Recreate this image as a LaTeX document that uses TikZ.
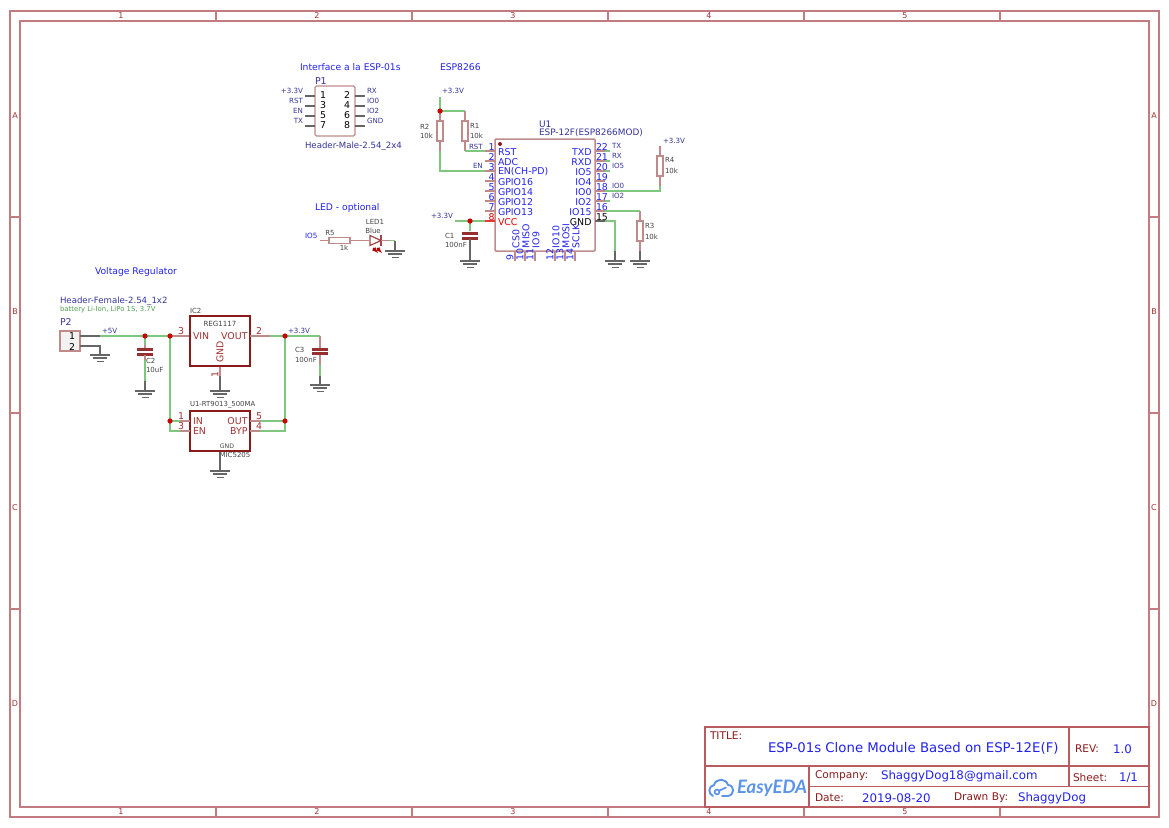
\documentclass[tikz,border=0pt]{standalone}
\usepackage{fontspec}
\setmainfont{DejaVu Sans}
\newfontfamily\logofont{Lato}
\definecolor{framec}{HTML}{C27C80}
\definecolor{tbc}{HTML}{B85C60}
\definecolor{rose}{HTML}{C08A8A}
\definecolor{wire}{HTML}{7FC77F}
\definecolor{gnd}{HTML}{666666}
\definecolor{junc}{HTML}{CC0000}
\definecolor{dred}{HTML}{8B1A1A}
\definecolor{pinred}{HTML}{A03030}
\definecolor{tblue}{HTML}{2222EE}
\definecolor{navy}{HTML}{33339A}
\definecolor{dtext}{HTML}{444444}
\definecolor{logoc}{HTML}{5B93E8}
\definecolor{battc}{HTML}{4FA04F}
\newcounter{tc}
\newcommand\Lbl[3][]{\stepcounter{tc}\node[lbl,#1] (t\arabic{tc}) at (#2) {#3};}
\newcommand\fs[1]{\fontsize{#1}{#1}\selectfont}
\newcommand\Gnd[3]{%
  \coordinate (#1) at (#2,#3);
  \draw[gnd,line width=1.3pt] ($(#1)+(-10,0)$) -- ($(#1)+(10,0)$);
  \draw[gnd,line width=1.1pt] ($(#1)+(-7,3)$) -- ($(#1)+(7,3)$);
  \draw[gnd,line width=1pt] ($(#1)+(-3.5,6)$) -- ($(#1)+(3.5,6)$);}
\newcommand\Jn[1]{\fill[junc] (#1) circle (2.6);}
\usetikzlibrary{calc}
\tikzset{
  lbl/.style={inner sep=0pt,outer sep=0pt,anchor=west},
  w/.style={wire,line width=1.5pt},
  pin/.style={rose,line width=1.5pt},
  gw/.style={gnd,line width=1.5pt},
  fr/.style={framec,line width=1.4pt},
  tb/.style={tbc,line width=1.3pt},
  sym/.style={draw=rose,line width=1.4pt,inner sep=0pt,minimum width=6pt,minimum height=20pt,rectangle},
  ic/.style={draw=dred,line width=2pt,inner sep=0pt,rectangle},
  bn/.style={tblue,font=\fs{9.4}},
  bs/.style={tblue,font=\fs{7}},
  ns/.style={navy,font=\fs{7.1}},
  nt/.style={navy,font=\fs{8.6}},
  ds/.style={dtext,font=\fs{7}},
  rn/.style={pinred,font=\fs{9.4}},
  tt/.style={dred,font=\fs{10.6}},
  tv/.style={tblue,font=\fs{11.8}},
  fl/.style={pinred,font=\fs{8}},
}
\begin{document}
\begin{tikzpicture}[x=1pt,y=-1pt]
\useasboundingbox (0,0) rectangle (1169,827);
% sheet frame
\draw[fr] (10,11) rectangle (1159,817);
\draw[fr] (20,21) rectangle (1149,807);
\foreach \x in {216,412,608,804,1000}{\draw[fr] (\x,11)--(\x,21); \draw[fr] (\x,807)--(\x,817);}
\foreach \y in {217,413,609}{\draw[fr] (10,\y)--(20,\y); \draw[fr] (1149,\y)--(1159,\y);}
\foreach \x/\t [count=\i] in {121/1,317/2,513/3,709/4,905/5}{
  \node[lbl,anchor=center,fl] (ft\i) at (\x,16) {\t};
  \node[lbl,anchor=center,fl] (fb\i) at (\x,812) {\t};}
\foreach \y/\t [count=\i] in {116/A,312/B,508/C,704/D}{
  \node[lbl,anchor=center,fl] (fl\i) at (15,\y) {\t};
  \node[lbl,anchor=center,fl] (fr\i) at (1154,\y) {\t};}
% title block
\draw[tb] (705,727) rectangle (1149,807);
\draw[tb] (705,766)--(1149,766);
\draw[tb] (1069,727)--(1069,786.5);
\draw[tb] (809,766)--(809,807);
\draw[tb] (809,786.5)--(1149,786.5);
\Lbl[tt]{710,736}{TITLE:}
\Lbl[tblue,font=\fs{13.3}]{768,748}{ESP-01s Clone Module Based on ESP-12E(F)}
\Lbl[tt]{1075,749}{REV:}
\Lbl[tv]{1113,749}{1.0}
\Lbl[tt]{815,776}{Company:}
\Lbl[tv]{881,776}{ShaggyDog18@gmail.com}
\Lbl[tt]{1073,778}{Sheet:}
\Lbl[tv]{1119,778}{1/1}
\Lbl[tt]{815,798}{Date:}
\Lbl[tv]{862,798}{2019-08-20}
\Lbl[tt]{954,798}{Drawn By:}
\Lbl[tv]{1018,798}{ShaggyDog}
% logo
\draw[logoc,line width=1.9pt,line cap=round,line join=round] (713,796) .. controls (708,794) and (708,786) .. (714,785)
  .. controls (716,778) and (726,778) .. (728,785) .. controls (735,785) and (735,796) .. (727,796) -- (722,796);
\draw[logoc,line width=1.7pt] (717,792) circle (2.4);
\draw[logoc,line width=1.7pt,line cap=round] (719.5,790.5) -- (726,787.5);
\Lbl[logoc,font=\logofont\fs{18.5}\bfseries\itshape]{737,788}{EasyEDA}
% P1
\Lbl[tblue,font=\fs{9.2}]{300,67}{Interface a la ESP-01s}
\Lbl[navy,font=\fs{9.4}]{315,81}{P1}
\Lbl[nt]{305,146}{Header-Male-2.54\_2x4}
\node[draw=rose,line width=1.4pt,rounded corners=1.5pt,minimum width=40pt,minimum height=50pt,inner sep=0pt] (P1) at (335,111) {};
\foreach \y/\l/\n/\r/\m [count=\i] in {96/{+3.3V}/1/RX/2,106/RST/3/IO0/4,116/EN/5/IO2/6,126/TX/7/GND/8}{
  \coordinate (pl\i) at (315,\y); \coordinate (pr\i) at (355,\y);
  \draw[gnd,line width=1.3pt] (pl\i) -- +(-10,0);
  \draw[gnd,line width=1.3pt] (pr\i) -- +(10,0);
  \node[lbl,anchor=east,ns] (pll\i) at (303,\y-5) {\l};
  \node[lbl,ns] (prl\i) at (367,\y-5) {\r};
  \node[lbl,anchor=center,font=\fs{9.4}] (pln\i) at (323,\y-1) {\n};
  \node[lbl,anchor=center,font=\fs{9.4}] (prn\i) at (347,\y-1) {\m};}
% ESP
\Lbl[tblue,font=\fs{9.2}]{440,67}{ESP8266}
\Lbl[navy,font=\fs{9}]{539,124}{U1}
\Lbl[navy,font=\fs{8.9}]{539,133}{ESP-12F(ESP8266MOD)}
\node[draw=rose,line width=1.5pt,rounded corners=1pt,minimum width=100pt,minimum height=112pt,inner sep=0pt] (U1) at (545,195) {};
\fill[dred] (500,144) circle (2);
\foreach \y/\n/\t in {151/1/RST,161/2/ADC,171/3/EN(CH-PD),181/4/GPIO16,191/5/GPIO14,201/6/GPIO12,211/7/GPIO13}{
  \draw[pin] (495,\y) -- (485,\y);
  \node[lbl,anchor=east,bn] (ln\n) at (494.5,\y-4) {\n};
  \node[lbl,bn] (ll\n) at (498,\y+1) {\t};}
\draw[pin,draw=red!60!rose] (495,221) -- (485,221);
\Lbl[anchor=east,red!85!black,font=\fs{9.4}]{494.5,217}{8}
\Lbl[red!90!black,font=\fs{9.4}]{498,222}{VCC}
\foreach \y/\n/\t [count=\i] in {151/22/TXD,161/21/RXD,171/20/IO5,181/19/IO4,191/18/IO0,201/17/IO2,211/16/IO15}{
  \draw[pin] (595,\y) -- (605,\y);
  \node[lbl,bn] (rn\i) at (596,\y-4) {\n};
  \node[lbl,anchor=east,bn] (rl\i) at (591.5,\y+1) {\t};}
\draw[gnd,line width=1.5pt] (595,221) -- (605,221);
\Lbl[black,font=\fs{9.4}]{596,217}{15}
\Lbl[anchor=east,black,font=\fs{9.4}]{591.5,222}{GND}
\foreach \x/\n/\t in {515/9/CS0,525/10/MISO,535/11/IO9,555/12/IO10,565/13/MOSI,575/14/SCLK}{
  \draw[pin] (\x,251) -- (\x,261);
  \node[lbl,anchor=west,rotate=90,bn] (bn\n) at (\x-5,260) {\n};
  \node[lbl,anchor=west,rotate=90,bn] (bl\n) at (\x+1,248) {\t};}
% U1 left network
\coordinate (vt) at (440,97); \coordinate (j1) at (440,111);
\node[sym] (R2) at (440,131) {};
\node[sym] (R1) at (465,131) {};
\draw[w] (vt) -- (j1) -- (465,111);
\draw[pin] (R2.north) -- (j1);
\draw[pin] (R1.north) -- (465,111);
\draw[pin] (R2.south) -- (440,151);
\draw[w] (440,151) |- (485,171);
\draw[pin] (R1.south) -- (465,151);
\draw[w] (465,151) -- (485,151);
\Jn{j1}
\Lbl[ns]{442,91}{+3.3V}
\Lbl[ds]{420,127}{R2}
\Lbl[ds]{420,136}{10k}
\Lbl[ds]{470,126}{R1}
\Lbl[ds]{470,136}{10k}
\Lbl[ns]{469,147}{RST}
\Lbl[ns]{473,166}{EN}
% C1
\coordinate (v2) at (455,221); \coordinate (j2) at (470,221);
\draw[w] (v2) -- (485,221);
\draw[w] (j2) -- (470,231);
\fill[dred!80!rose] (462,232) rectangle (478,235);
\fill[dred!80!rose] (462,236.5) rectangle (478,239.5);
\draw[gw] (470,239) -- (470,260);
\Gnd{g1}{470}{261}
\Jn{j2}
\Lbl[ns]{431,216}{+3.3V}
\Lbl[ds]{445,236}{C1}
\Lbl[ds]{445,245}{100nF}
% right network
\coordinate (w22) at (605,151); \coordinate (w21) at (605,161); \coordinate (w20) at (605,171);
\draw[w] (w22) -- +(5,0); \draw[w] (w21) -- +(5,0); \draw[w] (w20) -- +(5,0);
\Lbl[ns]{612,146}{TX}
\Lbl[ns]{612,156}{RX}
\Lbl[ns]{612,166}{IO5}
\Lbl[ns]{612,186}{IO0}
\Lbl[ns]{612,196}{IO2}
\draw[w] (605,201) -- (610,201);
\node[sym] (R4) at (660,166) {};
\draw[pin] (R4.north) -- (660,146);
\draw[pin] (R4.south) -- (660,186);
\draw[w] (605,191) -- (660,191) -- (660,186);
\Lbl[ns]{663,141}{+3.3V}
\Lbl[ds]{665,160}{R4}
\Lbl[ds]{665,171}{10k}
\node[sym] (R3) at (640,231) {};
\draw[w] (605,211) -- (640,211);
\draw[pin] (640,211) -- (R3.north);
\draw[pin] (R3.south) -- (640,251);
\draw[gw] (640,251) -- (640,260);
\Gnd{g3}{640}{261}
\Lbl[ds]{645,226}{R3}
\Lbl[ds]{645,237}{10k}
\draw[w] (605,221) -- (615,221) -- (615,251);
\draw[gw] (615,251) -- (615,260);
\Gnd{g2}{615}{261}
% LED
\Lbl[tblue,font=\fs{9.2}]{315,208}{LED - optional}
\Lbl[tblue,font=\fs{7.2}]{305,236}{IO5}
\node[draw=rose,line width=1.4pt,inner sep=0pt,minimum width=21pt,minimum height=6pt] (R5) at (339.5,240.5) {};
\draw[pin] (320,240.5) -- (R5.west);
\draw[pin] (R5.east) -- (369,240.5);
\draw[draw=dred!60!rose,line width=1.2pt] (370,235.5) -- (381,240.5) -- (370,245.5) -- cycle;
\draw[draw=dred!60!rose,line width=1.3pt] (381,235) -- (381,246);
\draw[pin] (381,240.5) -- (390,240.5);
\draw[w] (390,240.5) -- (395,240.5);
\draw[gw] (395,241) -- (395,251);
\Gnd{g4}{395}{251}
\draw[red!70!black,line width=1.1pt,-{latex}] (373,248) -- (378,253);
\draw[red!70!black,line width=1.1pt,-{latex}] (377,248) -- (382,253);
\Lbl[anchor=center,ds]{330,233}{R5}
\Lbl[anchor=center,ds]{344,248}{1k}
\Lbl[anchor=center,ds]{375,222}{LED1}
\Lbl[anchor=center,ds]{373,231}{Blue}
% Regulator input
\Lbl[tblue,font=\fs{9.2}]{95,272}{Voltage Regulator}
\Lbl[nt]{60,301}{Header-Female-2.54\_1x2}
\Lbl[battc,font=\fs{6.9}]{60,310}{battery Li-Ion, LiPo 1S, 3.7V}
\Lbl[navy,font=\fs{9.4}]{60,322}{P2}
\node[draw=rose,fill=black!5,line width=1.5pt,inner sep=0pt,minimum width=20pt,minimum height=20pt] (P2) at (70,341) {};
\Lbl[anchor=center,font=\fs{9.4}]{72,336}{1}
\Lbl[anchor=center,font=\fs{9.4}]{72,347}{2}
\coordinate (j3) at (145,336); \coordinate (j4) at (170,336);
\draw[gw] (80,336) -- (100,336);
\draw[w] (100,336) -- (j3) -- (j4);
\draw[gw] (80,346) -- (100,346) -- (100,355);
\Gnd{g5}{100}{355}
\Lbl[ns]{102,331}{+5V}
\draw[w] (j3) -- (145,345);
\draw[pin] (145,345) -- (145,349);
\fill[dred!80!rose] (137,348) rectangle (153,351);
\fill[dred!80!rose] (137,352.5) rectangle (153,355.5);
\draw[pin] (145,355) -- (145,360);
\draw[w] (145,360) -- (145,381);
\draw[gw] (145,381) -- (145,391);
\Gnd{g6}{145}{391}
\Jn{j3}
\Lbl[ds]{146,361}{C2}
\Lbl[ds]{146,370}{10uF}
% IC2
\node[ic,minimum width=60pt,minimum height=50pt] (IC2) at (220,341) {};
\Lbl[ds]{190,311}{IC2}
\Lbl[anchor=center,dtext,font=\fs{7.1}]{220,323.5}{REG1117}
\Lbl[rn]{193,336}{VIN}
\Lbl[anchor=east,rn]{247.5,336}{VOUT}
\Lbl[anchor=center,rotate=90,rn]{220,352}{GND}
\draw[pin] (j4) -- (IC2.west |- j4);
\Lbl[anchor=center,rn]{181,331}{3}
\coordinate (j5) at (285,336);
\draw[pin] (250,336) -- (270,336);
\draw[w] (270,336) -- (j5) -- (320,336);
\Lbl[anchor=center,rn]{259,331}{2}
\Lbl[ns]{288,331}{+3.3V}
\draw[pin] (320,336) -- (320,349);
\fill[dred!80!rose] (312,347.5) rectangle (328,350.5);
\fill[dred!80!rose] (312,352) rectangle (328,355);
\draw[pin] (320,355) -- (320,365);
\draw[w] (320,365) -- (320,376);
\draw[gw] (320,376) -- (320,385);
\Gnd{g7}{320}{385}
\Lbl[ds]{295,350}{C3}
\Lbl[ds]{295,360}{100nF}
\draw[pin] (IC2.south) -- (220,376);
\draw[gw] (220,376) -- (220,391);
\Gnd{g8}{220}{391}
\Lbl[anchor=center,rotate=90,rn]{215,375}{1}
% U1-RT9013
\node[ic,minimum width=60pt,minimum height=40pt] (REG) at (220,431) {};
\Lbl[dtext,font=\fs{6.9}]{190,405}{U1-RT9013\_500MA}
\Lbl[anchor=center,dtext,font=\fs{6.2}]{227,446}{GND}
\Lbl[anchor=center,dtext,font=\fs{7}]{235,455}{MIC5205}
\Lbl[rn]{193,421.5}{IN}
\Lbl[rn]{193,431.5}{EN}
\Lbl[anchor=east,rn]{247.5,421.5}{OUT}
\Lbl[anchor=east,rn]{247.5,431.5}{BYP}
\coordinate (j6) at (170,421); \coordinate (j7) at (285,421);
\draw[w] (j4) -- (j6) -- (170,431) -- (180,431);
\draw[w] (j6) -- (180,421);
\draw[pin] (180,421) -- (190,421);
\draw[pin] (180,431) -- (190,431);
\Lbl[anchor=center,rn]{181,416}{1}
\Lbl[anchor=center,rn]{181,426}{3}
\draw[pin] (250,421) -- (260,421);
\draw[pin] (250,431) -- (260,431);
\draw[w] (260,421) -- (j7);
\draw[w] (260,431) -- (285,431) -- (j7) -- (j5);
\Lbl[anchor=center,rn]{259,416}{5}
\Lbl[anchor=center,rn]{259,426}{4}
\draw[gw] (REG.south) -- (220,471);
\Gnd{g9}{220}{471}
\Jn{j4}\Jn{j5}\Jn{j6}\Jn{j7}
\end{tikzpicture}
\end{document}
